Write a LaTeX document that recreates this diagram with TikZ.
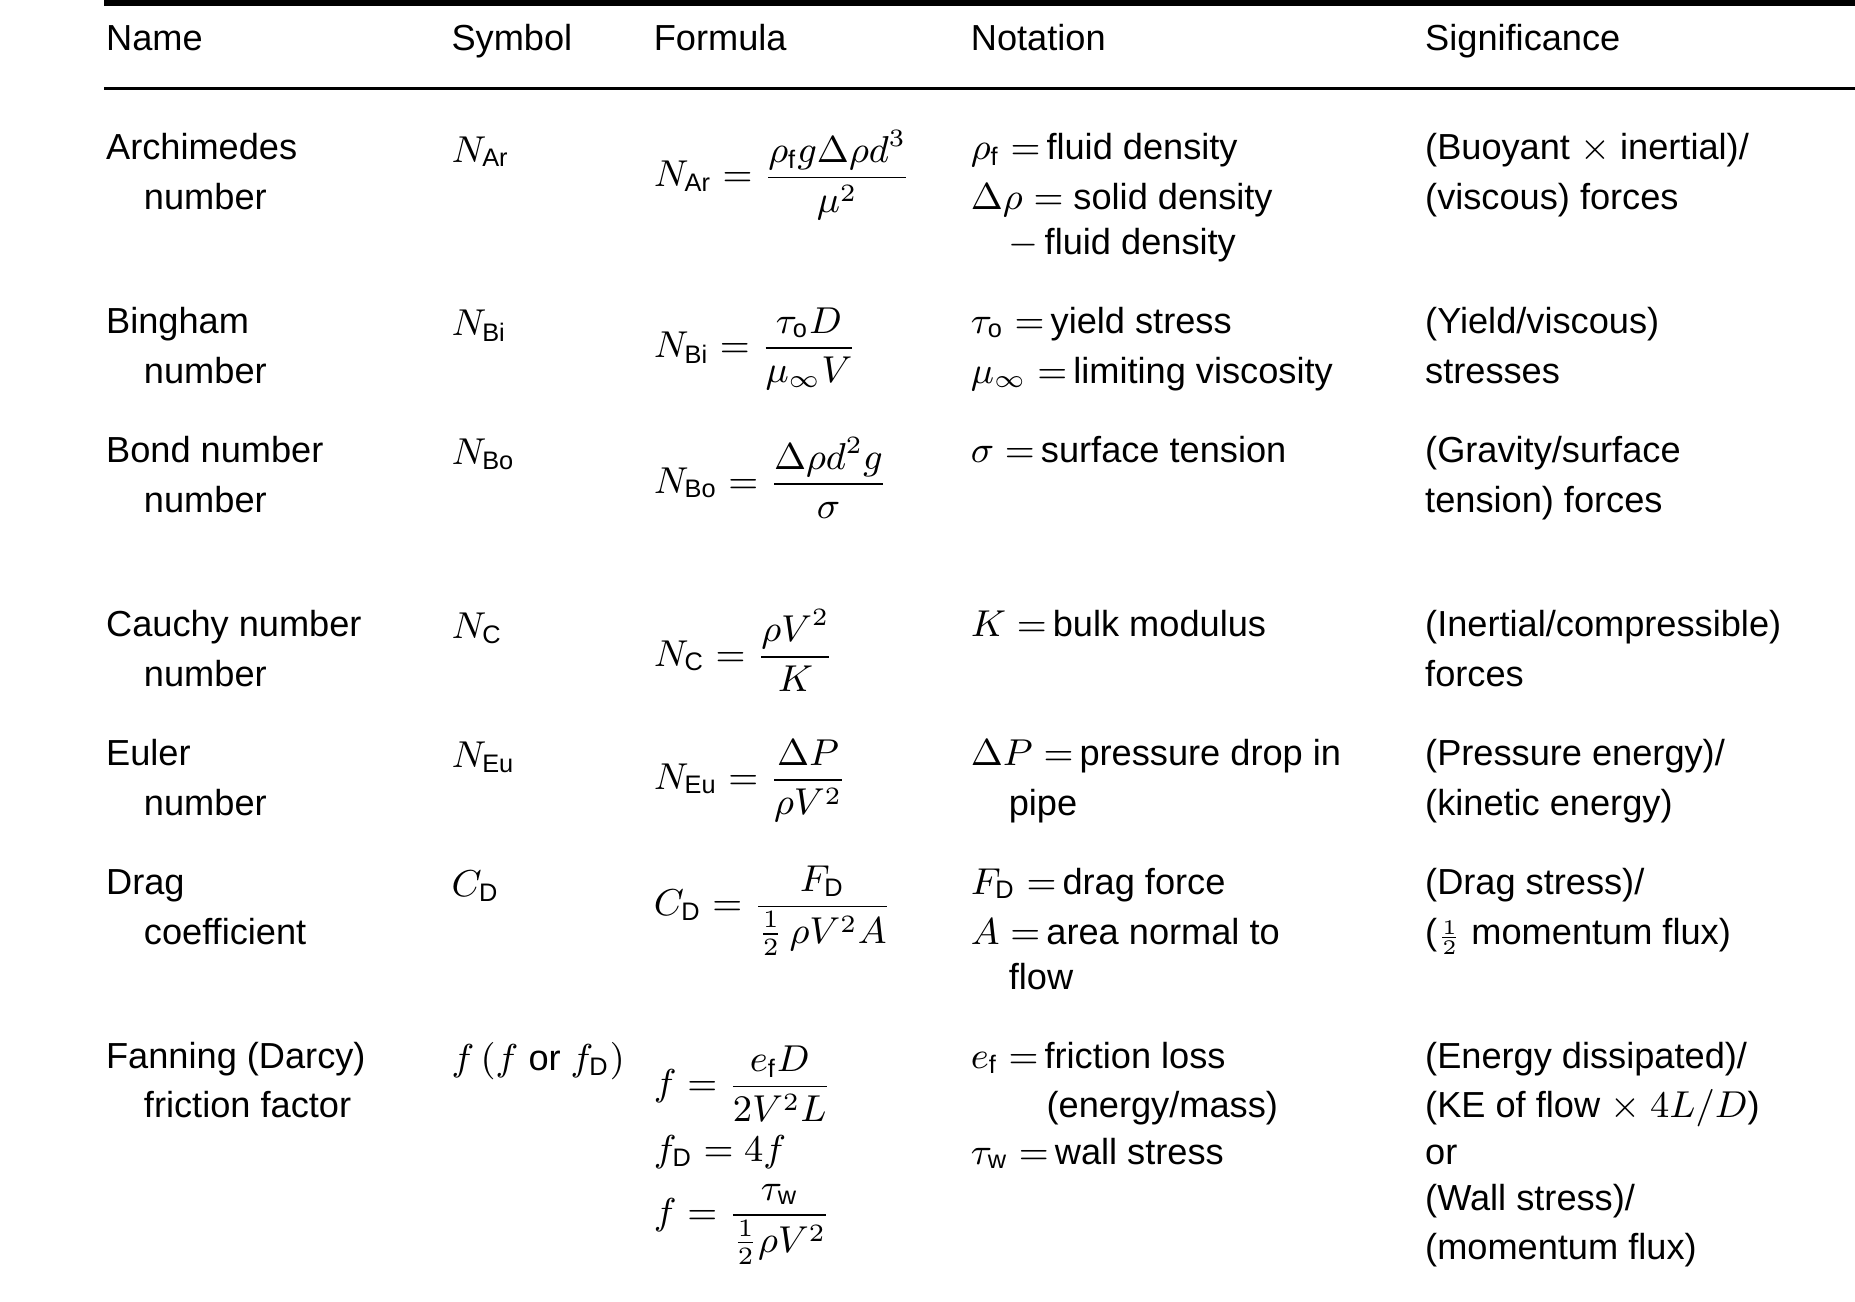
\documentclass[tikz,border=0pt]{standalone}
\usepackage{amsmath}
\usepackage{fontspec}
\setmainfont{Liberation Sans}
\begin{document}
\begin{tikzpicture}[x=0.01cm,y=-0.01cm,
  t/.style={anchor=base west,inner sep=0pt,font=\fontsize{8.7}{10}\selectfont},
  m/.style={anchor=west,inner sep=0pt,font=\fontsize{8.7}{10}\selectfont}]
\useasboundingbox (0,0) rectangle (1568,1100);
\draw[line width=2.2pt] (88,1.5) -- (1568,1.5);
\draw[line width=0.6pt] (88,75) -- (1568,75);
% header
\node[t] (h1) at (89,43) {Name};
\node[t] (h2) at (381,43) {Symbol};
\node[t] (h3) at (552,43) {Formula};
\node[t] (h4) at (820,43) {Notation};
\node[t] (h5) at (1204,43) {Significance};
% Archimedes
\node[t] (a1) at (89,135) {Archimedes};
\node[t] (a2) at (121,177) {number};
\node[t] (as) at (381,137) {$N_{\mathrm{Ar}}$};
\node[m] (af) at (552,148) {$N_{\mathrm{Ar}}=\dfrac{\rho_{\mathrm f} g\Delta\rho d^3}{\mu^2}$};
\node[t] (an1) at (820,135) {$\rho_{\mathrm f}=$\,fluid density};
\node[t] (an2) at (820,177) {$\Delta\rho=$ solid density};
\node[t] (an3) at (852,215) {$-$\,fluid density};
\node[t] (ag1) at (1204,135) {(Buoyant $\times$ inertial)/};
\node[t] (ag2) at (1204,177) {(viscous) forces};
% Bingham
\node[t] (b1) at (89,282) {Bingham};
\node[t] (b2) at (121,324) {number};
\node[t] (bs) at (381,284) {$N_{\mathrm{Bi}}$};
\node[m] (bf) at (552,295) {$N_{\mathrm{Bi}}=\dfrac{\tau_{\mathrm o} D}{\mu_\infty V}$};
\node[t] (bn1) at (820,282) {$\tau_{\mathrm o}=$\,yield stress};
\node[t] (bn2) at (820,324) {$\mu_\infty=$\,limiting viscosity};
\node[t] (bg1) at (1204,282) {(Yield/viscous)};
\node[t] (bg2) at (1204,324) {stresses};
% Bond
\node[t] (c1) at (89,391) {Bond number};
\node[t] (c2) at (121,433) {number};
\node[t] (cs) at (381,393) {$N_{\mathrm{Bo}}$};
\node[m] (cf) at (552,404) {$N_{\mathrm{Bo}}=\dfrac{\Delta\rho d^2 g}{\sigma}$};
\node[t] (cn1) at (820,391) {$\sigma=$\,surface tension};
\node[t] (cg1) at (1204,391) {(Gravity/surface};
\node[t] (cg2) at (1204,433) {tension) forces};
% Cauchy
\node[t] (d1) at (89,538) {Cauchy number};
\node[t] (d2) at (121,580) {number};
\node[t] (ds) at (381,540) {$N_{\mathrm C}$};
\node[m] (df) at (552,550) {$N_{\mathrm C}=\dfrac{\rho V^2}{K}$};
\node[t] (dn1) at (820,538) {$K=$\,bulk modulus};
\node[t] (dg1) at (1204,538) {(Inertial/compressible)};
\node[t] (dg2) at (1204,580) {forces};
% Euler
\node[t] (e1) at (89,647) {Euler};
\node[t] (e2) at (121,689) {number};
\node[t] (es) at (381,649) {$N_{\mathrm{Eu}}$};
\node[m] (ef) at (552,660) {$N_{\mathrm{Eu}}=\dfrac{\Delta P}{\rho V^2}$};
\node[t] (en1) at (820,647) {$\Delta P=$\,pressure drop in};
\node[t] (en2) at (852,689) {pipe};
\node[t] (eg1) at (1204,647) {(Pressure energy)/};
\node[t] (eg2) at (1204,689) {(kinetic energy)};
% Drag
\node[t] (f1) at (89,756) {Drag};
\node[t] (f2) at (121,798) {coefficient};
\node[t] (fs) at (381,758) {$C_{\mathrm D}$};
\node[m] (ff) at (552,770) {$C_{\mathrm D}=\dfrac{F_{\mathrm D}}{\frac12\,\rho V^2 A}$};
\node[t] (fn1) at (820,756) {$F_{\mathrm D}=$\,drag force};
\node[t] (fn2) at (820,798) {$A=$\,area normal to};
\node[t] (fn3) at (852,836) {flow};
\node[t] (fg1) at (1204,756) {(Drag stress)/};
\node[t] (fg2) at (1204,798) {(${\scriptstyle\frac12}$ momentum flux)};
% Fanning
\node[t] (g1) at (89,903) {Fanning (Darcy)};
\node[t] (g2) at (121,945) {friction factor};
\node[t] (gs) at (381,905) {$f\,(f$ or $f_{\mathrm D})$};
\node[m] (gf1) at (552,916) {$f=\dfrac{e_{\mathrm f} D}{2V^2L}$};
\node[m] (gf2) at (552,974) {$f_{\mathrm D}=4f$};
\node[m] (gf3) at (552,1035) {$f=\dfrac{\tau_{\mathrm w}}{\frac12\rho V^2}$};
\node[t] (gn1) at (820,903) {$e_{\mathrm f}=$\,friction loss};
\node[t] (gn2) at (884,945) {(energy/mass)};
\node[t] (gn3) at (820,984) {$\tau_{\mathrm w}=$\,wall stress};
\node[t] (gg1) at (1204,903) {(Energy dissipated)/};
\node[t] (gg2) at (1204,945) {(KE of flow $\times$ $4L/D$)};
\node[t] (gg3) at (1204,984) {or};
\node[t] (gg4) at (1204,1023) {(Wall stress)/};
\node[t] (gg5) at (1204,1065) {(momentum flux)};
\end{tikzpicture}
\end{document}
